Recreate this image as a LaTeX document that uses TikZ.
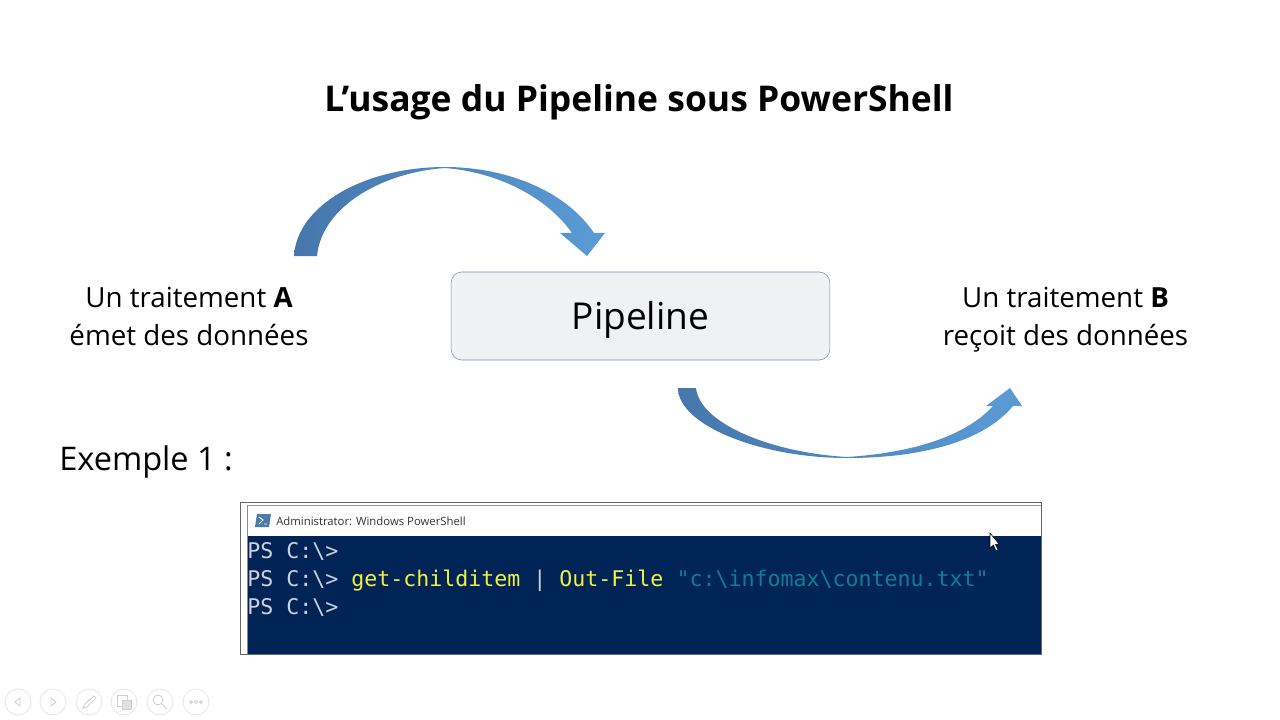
\documentclass[tikz,border=0pt]{standalone}
\usepackage{fontspec}
\setmainfont{Open Sans}
\newfontfamily\consolefont[Ligatures={NoCommon,NoRequired,NoContextual}]{DejaVu Sans Mono}
\definecolor{bleuA}{RGB}{70, 118, 172}
\definecolor{bleuB}{RGB}{91, 155, 213}
\definecolor{bleuC}{RGB}{1, 36, 86}
\definecolor{jauneC}{RGB}{240, 240, 70}
\definecolor{tealC}{RGB}{15, 125, 145}
\definecolor{grisC}{RGB}{205, 210, 218}
\definecolor{grisB}{RGB}{240, 241, 243}
\definecolor{bordB}{RGB}{120, 140, 170}
\tikzset{
  texte/.style={anchor=base,inner sep=0pt,font=\fontsize{20.8}{28.5}\selectfont},
  ligne/.style={anchor=base west,inner sep=0pt,text=grisC,font=\consolefont\fontsize{16.2}{20}\selectfont},
  rond/.style={draw=black!10,line width=0.6pt},
  icone/.style={draw=black!18,line width=0.7pt}
}
\begin{document}
\begin{tikzpicture}[x=0.75pt,y=-0.75pt]
    \useasboundingbox (0,0) rectangle (1280,720);
    \fill[white] (0,0) rectangle (1280,720);
    \node[anchor=base,inner sep=0pt,font=\bfseries\fontsize{26.6}{36}\selectfont] (titre) at (639,112) {L’usage du Pipeline sous PowerShell};
    % fleches
    \shade[left color=bleuA,right color=bleuB] (294,256) .. controls (297,205) and (365,167) .. (445,167)
    .. controls (505,167) and (565,190) .. (594,233) -- (605,233) -- (587,256) -- (560,233) -- (572,233)
    .. controls (545,195) and (495,172) .. (445,168) .. controls (385,172) and (322,205) .. (317,256) -- cycle;
    \shade[left color=bleuA,right color=bleuB] (678,388) .. controls (678,425) and (760,458) .. (847,458)
    .. controls (925,458) and (985,440) .. (1013,406) -- (1022,406) -- (1010,388) -- (986,406) -- (993,406)
    .. controls (965,437) and (910,453) .. (847,457) .. controls (775,453) and (700,425) .. (696,388) -- cycle;
    \node[draw=bordB,fill=grisB,rounded corners=8pt,minimum width=284pt,minimum height=66pt,inner sep=0pt] (pipeline) at (640.5,316) {};
    \node[anchor=base,inner sep=0pt,font=\fontsize{27.8}{34}\selectfont] (pipelinetexte) at (pipeline.center |- 0,329) {Pipeline};
    \node[texte] (emetA) at (189,307) {Un traitement \textbf{A}};
    \node[texte] (emetB) at (189,345) {émet des données};
    \node[texte] (recoitA) at (1065.5,307) {Un traitement \textbf{B}};
    \node[texte] (recoitB) at (1065.5,345) {reçoit des données};
    \node[anchor=base west,inner sep=0pt,font=\fontsize{24.4}{30}\selectfont] (exemple) at (59,470) {Exemple 1 :};
    % console
    \draw[black!60,fill=white] (240,502) rectangle (1041,654);
    \draw[black!40] (247,505) -- (1041,505);
    \fill[bleuC] (247,536) rectangle (1041,654);
    \draw[black!45] (247,505) -- (247,654);
    \fill[bleuB!80!black] (257,514) -- (271,514) -- (269,527) -- (255,527) -- cycle;
    \draw[white,line width=0.7pt] (259,517) -- (263,520) -- (259,524) (264,524) -- (267,524);
    \node[anchor=base west,inner sep=0pt,text=black!80,font=\fontsize{8.5}{11}\selectfont] (fenetre) at (276,525) {Administrator: Windows PowerShell};
    \node[ligne] (ligneA) at (247,558) {PS C:\textbackslash>};
    \node[ligne] (ligneB) at (247,586) {PS C:\textbackslash> \textcolor{jauneC}{get-childitem} | \textcolor{jauneC}{Out-File}};
    \node[ligne,anchor=base east,text=tealC] (chemin) at (989,586) {"c:\textbackslash infomax\textbackslash contenu.txt"};
    \node[ligne] (ligneC) at (247,614) {PS C:\textbackslash>};
    % curseur
    \draw[black,fill=white,line width=0.4pt] (990,533) -- (990,548) -- (993.5,545) -- (996,551) -- (998,550) -- (995.5,544.5) -- (999,544) -- cycle;
    % barre du diaporama
    \foreach \px in {18,53,89,124,160,196} \draw[rond] (\px,702) circle (13);
    \draw[icone] (20,698) -- (15,702) -- (20,706) -- cycle;
    \draw[icone] (51,698) -- (56,702) -- (51,706) -- cycle;
    \draw[icone] (83,708) -- (85,704) -- (94,696) -- (96,698) -- (87,707) -- cycle;
    \draw[icone] (117,695) rectangle (127,706);
    \draw[icone,fill=black!12] (122,700) rectangle (131,709);
    \draw[icone] (158,700) circle (5);
    \draw[icone] (162,704) -- (167,709);
    \foreach \px in {191,196,201} \draw[icone] (\px,702) circle (1.5);
\end{tikzpicture}
\end{document}
